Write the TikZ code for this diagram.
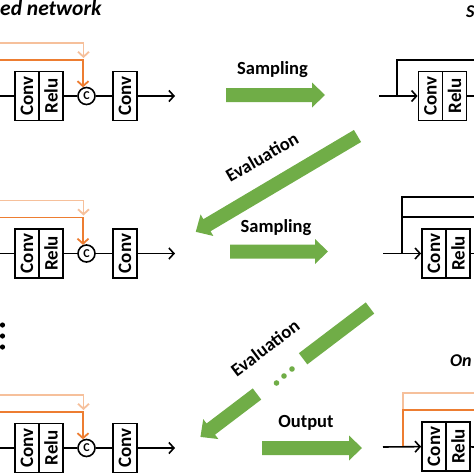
\documentclass[tikz,border=0pt]{standalone}
\usepackage{fontspec}
\setmainfont{Carlito}
\usetikzlibrary{arrows.meta}
\definecolor{gr}{RGB}{112,173,71}
\definecolor{dor}{RGB}{237,125,49}
\definecolor{lor}{RGB}{246,192,155}
\tikzset{
 blk/.style={draw=black, line width=1.8pt, minimum width=49pt, minimum height=24pt, inner sep=0pt, rotate=90, font=\fontsize{19}{19}\selectfont\bfseries},
 ln/.style={line width=1.6pt},
 arr/.style={line width=1.6pt, -{Straight Barb[length=5pt,width=11pt]}},
 oln/.style={line width=1.8pt},
 oarr/.style={-{Straight Barb[length=5pt,width=11pt]}},
 cc/.style={circle, draw, line width=1.6pt, minimum size=17pt, inner sep=0pt, font=\fontsize{12}{12}\selectfont\bfseries},
 lbl/.style={font=\fontsize{18.5}{18.5}\selectfont\bfseries, inner sep=0pt},
 ttl/.style={font=\fontsize{21.5}{21.5}\selectfont\bfseries\itshape, inner sep=0pt},
 ttlr/.style={font=\fontsize{18}{18}\selectfont\bfseries\itshape, inner sep=0pt},
 garrow/.style={fill=gr, draw=none}
}
\newcommand{\greenarrow}[4]{%
 \fill[garrow, shift={(#1,#2)}, rotate=#3] (0,-7) -- (#4-13,-7) -- (#4-13,-12.5) -- (#4,0) -- (#4-13,12.5) -- (#4-13,7) -- (0,7) -- cycle;}
\begin{document}
\begin{tikzpicture}[x=1pt,y=-1pt]
\useasboundingbox (0,0) rectangle (474,474);
\clip (0,0) rectangle (474,474);
% titles
\node[ttl, anchor=base west] (t1) at (0,15) {ed network};
\node[ttlr, anchor=base west] (t2) at (466,17) {S};
\node[ttlr, anchor=base west] (t3) at (450,366) {On};
% left networks
\foreach \r/\c in {1/96,2/253.5,3/448}{
 \node[blk] (lc\r) at (27,\c) {Conv};
 \node[blk] (lr\r) at (51,\c) {Relu};
 \node[cc] (cc\r) at (86.5,\c) {C};
 \node[blk] (lv\r) at (125,\c) {Conv};
 \coordinate (li\r) at (0,\c);
 \coordinate (lo\r) at (175,\c);
 \draw[ln] (li\r) -- (lc\r);
 \draw[ln] (lr\r) -- (cc\r);
 \draw[ln] (cc\r) -- (lv\r);
 \draw[arr] (lv\r) -- (lo\r);
 \coordinate (la\r) at (0,\c-53);
 \coordinate (lt\r) at (83.5,\c-38);
 \coordinate (da\r) at (0,\c-36);
 \draw[oln, lor, oarr] (la\r) -| (lt\r);
 \draw[oln, dor, oarr] (da\r) -| (cc\r.112);
}
% vertical dots
\fill (2.5,325) circle (2.6);
\fill (2.5,336) circle (2.6);
\fill (2.5,347) circle (2.6);
% right network 1
\node[blk] (rc1) at (430.5,96) {Conv};
\node[blk] (rr1) at (454.5,96) {Relu};
\coordinate (ri1) at (379,96);
\coordinate (ro1) at (474,96);
\coordinate (rf1) at (474,60);
\coordinate (rj1) at (397,96);
\draw[arr] (ri1) -- (rc1);
\draw[ln] (rr1) -- (ro1);
\draw[ln] (rf1) -| (rj1);
% right network 2
\node[blk] (rc2) at (434,253.5) {Conv};
\node[blk] (rr2) at (458,253.5) {Relu};
\coordinate (ri2) at (383,253.5);
\coordinate (ro2) at (474,253.5);
\coordinate (rf2) at (474,197);
\coordinate (rg2) at (474,217);
\coordinate (rk2) at (402,217);
\coordinate (rj2) at (402,253.5);
\draw[arr] (ri2) -- (rc2);
\draw[ln] (rr2) -- (ro2);
\draw[ln] (rf2) -| (rj2);
\draw[ln] (rg2) -- (rk2);
% right network 3
\node[blk] (rc3) at (434,446.5) {Conv};
\node[blk] (rr3) at (458,446.5) {Relu};
\coordinate (ri3) at (383,447);
\coordinate (ro3) at (474,447);
\coordinate (rf3) at (474,393);
\coordinate (rm3) at (403,410);
\coordinate (rg3) at (474,410);
\coordinate (rj3) at (403,447);
\draw[oln, lor] (rf3) -| (rm3);
\draw[oln, dor] (rg3) -| (rj3);
\draw[arr] (ri3) -- (rc3);
\draw[ln] (rr3) -- (ro3);
% green arrows
\greenarrow{226}{95}{0}{99}
\greenarrow{230}{251.5}{0}{98}
\greenarrow{262}{448}{0}{100}
\greenarrow{357.5}{136}{210.65}{188}
\fill[garrow, shift={(370,308)}, rotate=217.2] (0,-7) rectangle (84,7);
\greenarrow{257}{394}{217.2}{71}
\fill[gr] (292,369) circle (2.8);
\fill[gr] (284,376) circle (2.8);
\fill[gr] (276.5,383) circle (2.8);
% labels
\node[lbl, anchor=base] (s1) at (272.5,74) {Sampling};
\node[lbl, anchor=base] (s2) at (276,232) {Sampling};
\node[lbl, anchor=base] (o1) at (306,427) {Output};
\node[lbl, rotate=30] (e1) at (262,157) {Evaluation};
\node[lbl, rotate=37] (e2) at (265,348) {Evaluation};
\end{tikzpicture}
\end{document}
